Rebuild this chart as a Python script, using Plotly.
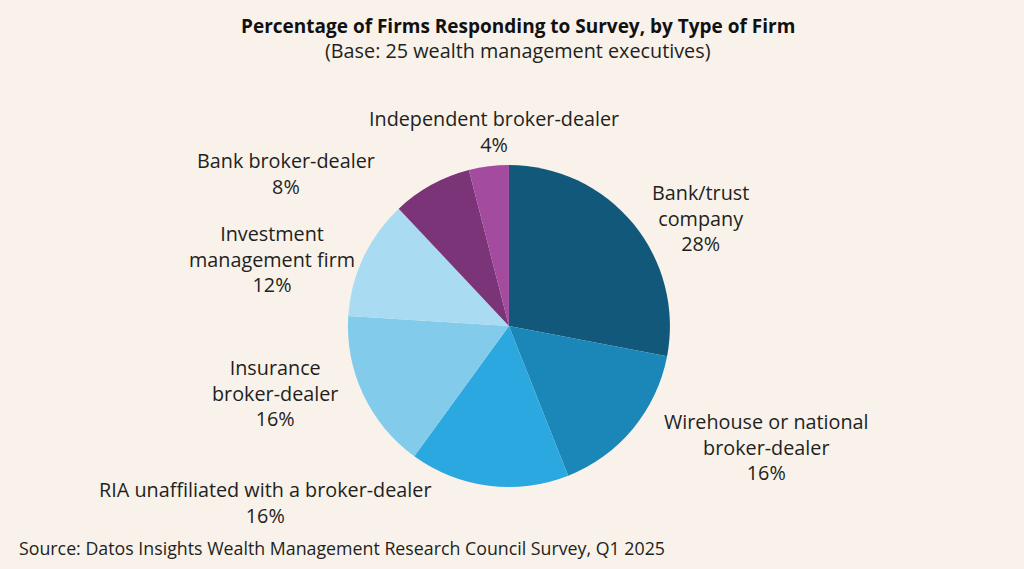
import plotly.graph_objects as go

categories = ["Bank/trust<br>company", "Wirehouse or national<br>broker-dealer",
              "RIA unaffiliated with a broker-dealer", "Insurance<br>broker-dealer",
              "Investment<br>management firm", "Bank broker-dealer",
              "Independent broker-dealer"]
values = [28, 16, 16, 16, 12, 8, 4]
colors = ["#12587a", "#1a87b8", "#2ba8e0", "#82cbea", "#a9dcf3", "#7b3477", "#a24b9f"]

title = "Percentage of Firms Responding to Survey, by Type of Firm"
subtitle = "(Base: 25 wealth management executives)"
source = "Source: Datos Insights Wealth Management Research Council Survey, Q1 2025"

# label block centres (pixels from top-left), layout only
label_xy = [(700, 218), (766, 447), (265, 503), (275, 393), (272, 259), (286, 173), (494, 131)]

FONT = "Open Sans"
W, H = 1024.0, 569.0
fig = go.Figure(go.Pie(
    labels=[c.replace("<br>", " ") for c in categories], values=values, sort=False,
    direction="clockwise", rotation=0,
    marker=dict(colors=colors, line=dict(width=0)),
    textinfo="none", showlegend=False, hoverinfo="label+value",
    domain=dict(x=[0.0, 0.994], y=[1 - 487/H, 1 - 165/H]),
))
annotations = []
for cat, val, (px, py) in zip(categories, values, label_xy):
    annotations.append(dict(text=f"{cat}<br>{val}%", x=px/W, y=1 - py/H, xref="paper", yref="paper",
                            xanchor="center", yanchor="middle", align="center", showarrow=False,
                            font=dict(size=19.8, family=FONT, color="#231f20")))
annotations += [
    dict(text="<b>" + title + "</b>", x=518/W, y=1 - 26/H, xref="paper", yref="paper",
         showarrow=False, font=dict(size=19, family=FONT, color="#111111"), yanchor="middle"),
    dict(text=subtitle, x=518/W, y=1 - 50/H, xref="paper", yref="paper",
         showarrow=False, font=dict(size=19.8, family=FONT, color="#231f20"), yanchor="middle"),
    dict(text=source, x=0, xshift=17, y=1 - 548/H, xref="paper", yref="paper", xanchor="left",
         align="left", showarrow=False, font=dict(size=17.8, family=FONT, color="#231f20"),
         yanchor="middle"),
]
fig.update_layout(
    width=1024, height=569, margin=dict(l=0, r=0, t=0, b=0),
    paper_bgcolor="#f8f2eb", plot_bgcolor="#f8f2eb",
    font=dict(family=FONT, color="#231f20"),
    annotations=annotations,
)
fig.write_html("out.html")
